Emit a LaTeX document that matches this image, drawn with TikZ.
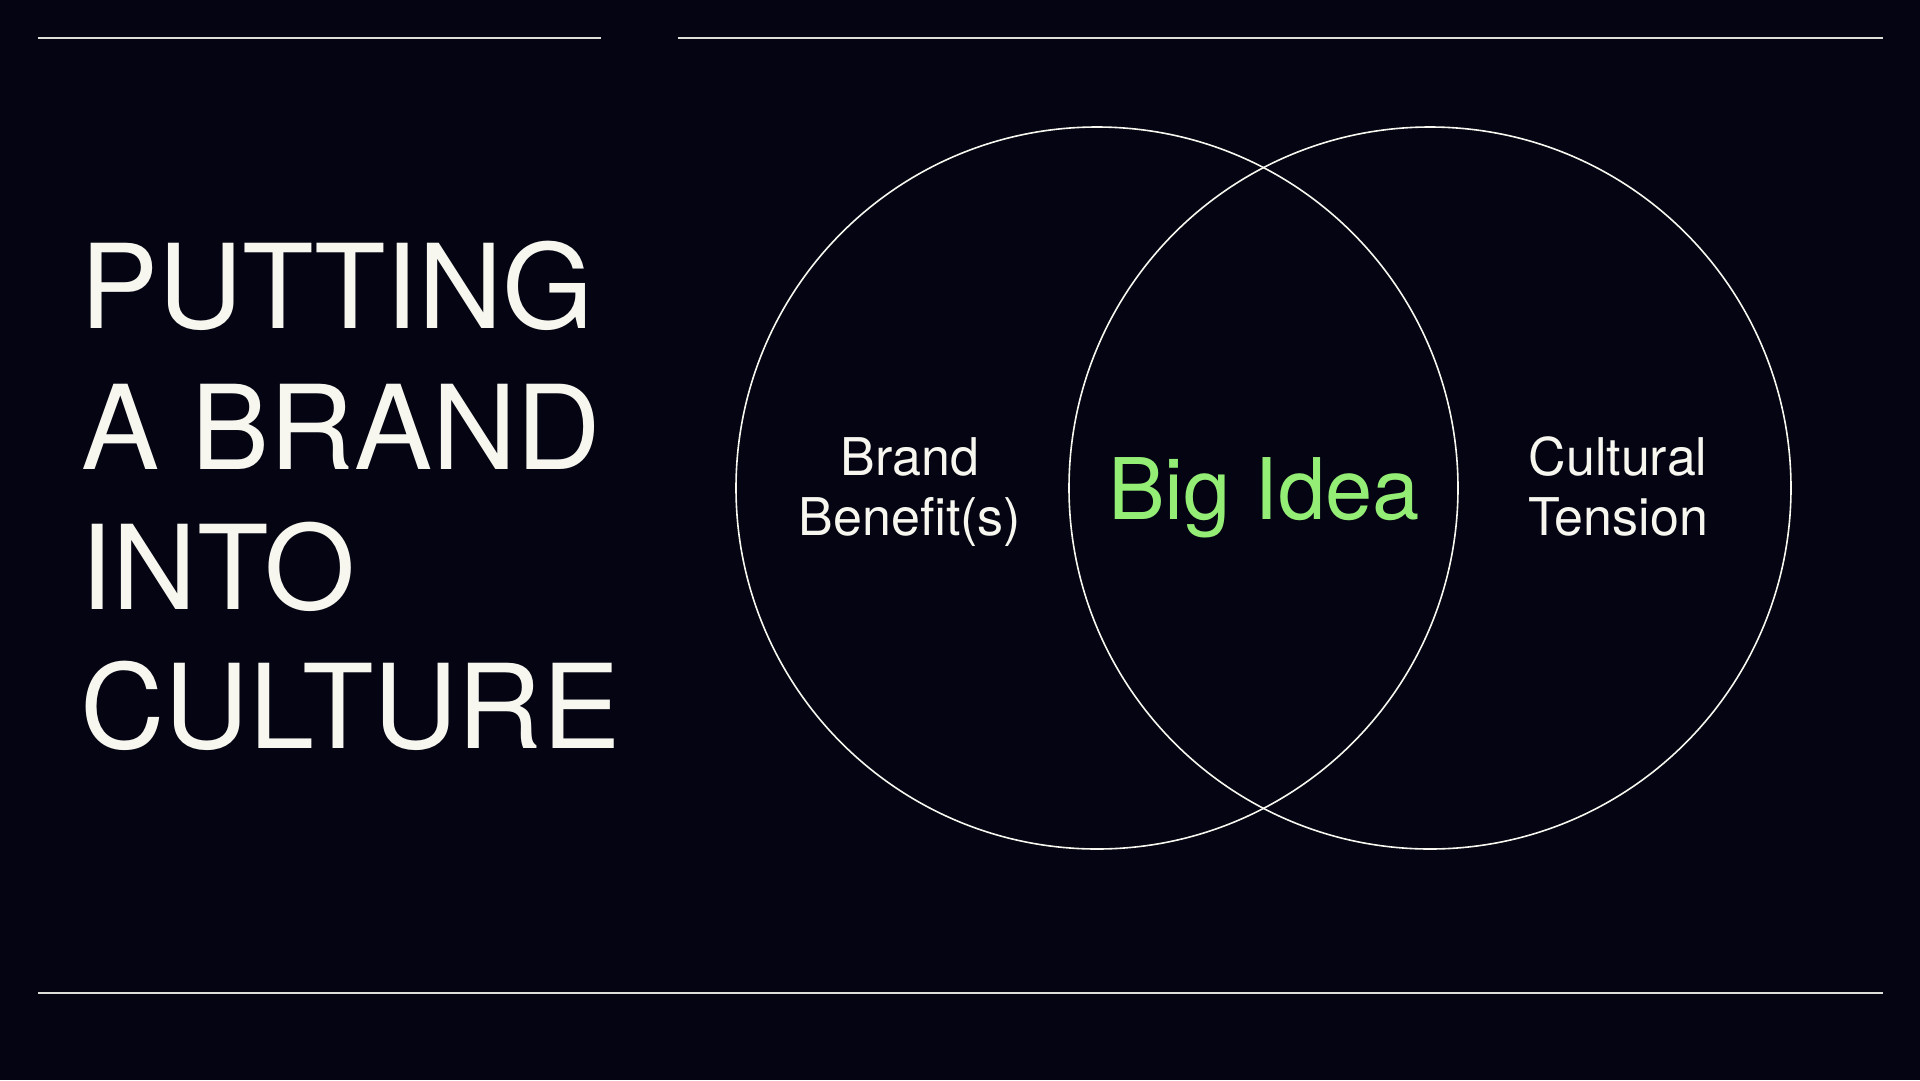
\documentclass[tikz,border=0pt]{standalone}
\usepackage{fontspec}
\setmainfont{TeX Gyre Heros}
\definecolor{bg}{RGB}{4,4,18}
\definecolor{fg}{RGB}{247,247,240}
\definecolor{idea}{RGB}{148,238,118}
\begin{document}
\begin{tikzpicture}[x=1pt,y=-1pt,
  rule/.style={draw=fg!90!bg,line width=2pt},
  ring/.style={draw=fg,line width=1.6pt},
  titletext/.style={anchor=base west,inner sep=0pt,text=fg,font=\fontsize{117}{140}\selectfont},
  labeltext/.style={anchor=base,inner sep=0pt,text=fg,font=\fontsize{52}{60}\selectfont},
  ideatext/.style={anchor=base,inner sep=0pt,text=idea,font=\fontsize{85}{100}\selectfont}]
\fill[bg] (0,0) rectangle (1920,1080);
\useasboundingbox (0,0) rectangle (1920,1080);
% rules
\coordinate (tl1) at (38,38);
\coordinate (tl2) at (601,38);
\coordinate (tr1) at (678,38);
\coordinate (tr2) at (1883,38);
\coordinate (b1) at (38,993);
\coordinate (b2) at (1883,993);
\draw[rule] (tl1) -- (tl2);
\draw[rule] (tr1) -- (tr2);
\draw[rule] (b1) -- (b2);
% circles
\coordinate (lc) at (1097,488);
\coordinate (rc) at (1430,488);
\draw[ring] (lc) circle[radius=361];
\draw[ring] (rc) circle[radius=361];
% title
\node[titletext] (t1) at (80,328) {PUTTING};
\node[titletext] (t2) at (81,469) {A BRAND};
\node[titletext] (t3) at (80,609) {INTO};
\node[titletext] (t4) at (80,748) {CULTURE};
% labels
\node[labeltext] (bb1) at (910,475) {Brand};
\node[labeltext] (bb2) at (910,535) {Benefit(s)};
\node[labeltext] (ct1) at (1618,475) {Cultural};
\node[labeltext] (ct2) at (1618,535) {Tension};
\node[ideatext] (big) at (1264,519) {Big Idea};
\end{tikzpicture}
\end{document}
